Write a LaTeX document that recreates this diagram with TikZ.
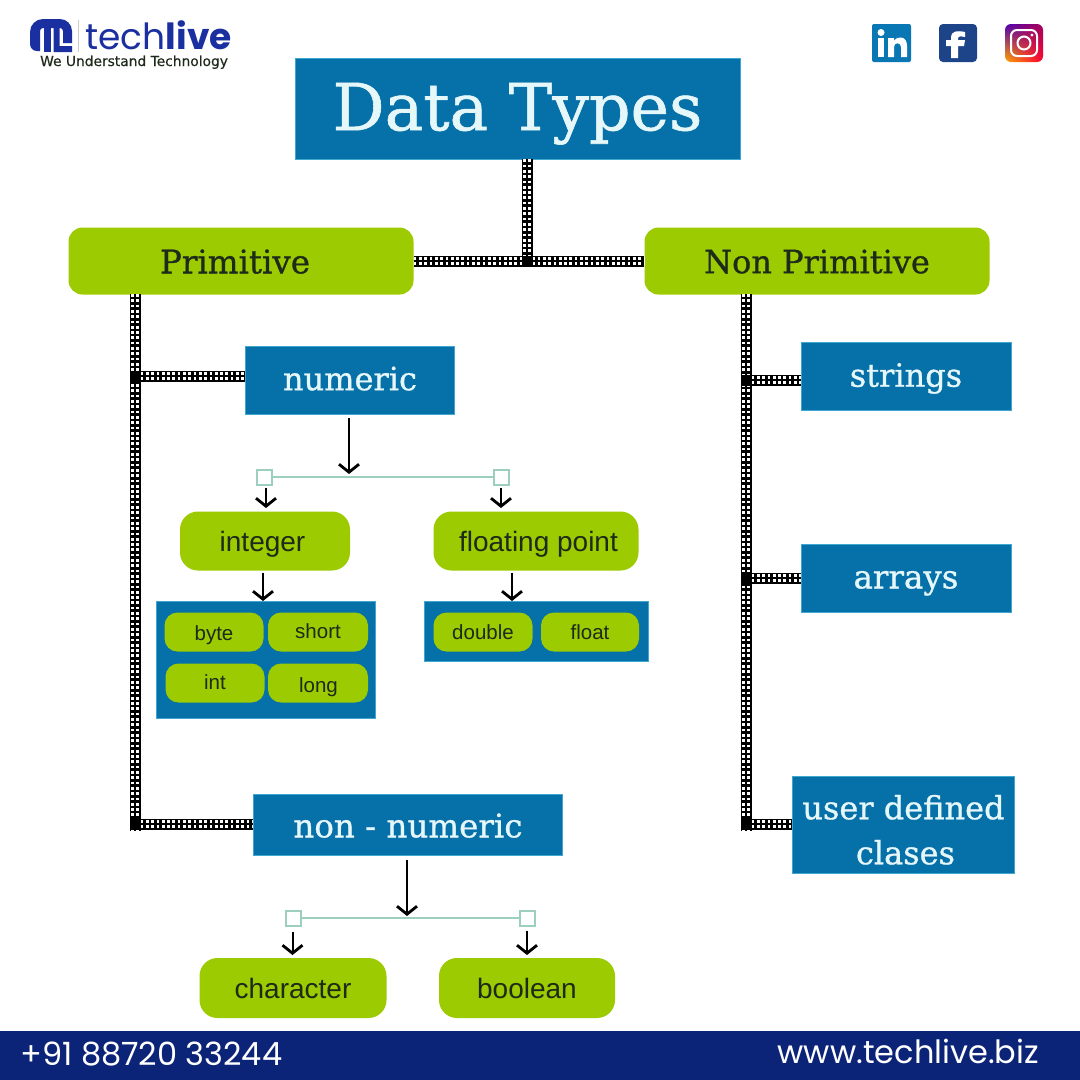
\documentclass[tikz,border=0pt]{standalone}
\usepackage{fontspec}
\setmainfont{Liberation Sans}
\newfontfamily\slabfont[FakeBold=0.9]{DejaVu Serif}
\newfontfamily\footfont{Poppins}
\newfontfamily\logofont{Poppins}
\newfontfamily\tagfont[FakeBold=0.4]{DejaVu Sans}
\usetikzlibrary{arrows.meta,shadings}
\definecolor{tlblue}{HTML}{0670A8}
\definecolor{tledge}{HTML}{3FA6CF}
\definecolor{tlgreen}{HTML}{9BCB00}
\definecolor{tlink}{HTML}{1E2A1A}
\definecolor{tlpale}{HTML}{E6F7FA}
\definecolor{tlnavy}{HTML}{0C2478}
\definecolor{tlmint}{HTML}{9CCFC0}
\definecolor{logoblue}{HTML}{1A2FA0}
\definecolor{lnblue}{HTML}{0A77B5}
\definecolor{fbblue}{HTML}{1D4488}
\tikzset{
  bluebox/.style={fill=tlblue,draw=tledge,line width=.6pt,text=tlpale,inner sep=0pt,align=center},
  greenbox/.style={fill=tlgreen,draw=none,rounded corners=#1,text=tlink,inner sep=0pt,align=center},
  greenbox/.default=14pt,
  ladder/.style={line width=11pt,black,
    postaction={draw=white,line width=7.5pt,dash pattern=on 2.7pt off 2.6pt},
    postaction={draw=black,line width=1.4pt}},
  arrowline/.style={black,line width=2pt,-{Straight Barb[length=8pt,width=20pt,line width=2.8pt]}},
  branch/.style={tlmint,line width=2pt},
  tick/.style={draw=tlmint,fill=white,line width=2pt,minimum size=15pt,inner sep=0pt},
  slab/.style={font=\slabfont\fontsize{#1}{#1}\selectfont,text height=.86*#1 pt,text depth=.1*#1 pt},
  sans/.style={font=\fontsize{#1}{#1}\selectfont,text height=.86*#1 pt,text depth=.1*#1 pt},
}
\begin{document}
\begin{tikzpicture}[x=1pt,y=-1pt]
\useasboundingbox (0,0) rectangle (1080,1080);
\fill[white] (0,0) rectangle (1080,1080);
% ----- footer
\fill[tlnavy] (0,1031) rectangle (1080,1080);
\node[anchor=west,text=white,inner sep=0pt,font=\footfont\fontsize{32}{32}\selectfont] (phone) at (20,1054) {+91 88720 33244};
\node[anchor=east,text=white,inner sep=0pt,font=\footfont\fontsize{32}{32}\selectfont] (web) at (1039,1051) {www.techlive.biz};
% ----- logo
\fill[logoblue] (30,44) -- (30,32) arc[start angle=180,end angle=270,radius=13] -- (60,19) arc[start angle=-90,end angle=0,radius=12] -- (72,43) -- (63,43) -- (63,31) arc[start angle=0,end angle=-90,radius=3] -- (43,28) arc[start angle=270,end angle=180,radius=3] -- (40,51) -- (37,51) arc[start angle=90,end angle=180,radius=7] -- cycle;
\fill[logoblue] (44,27) rectangle (50.5,52);
\fill[logoblue] (53.5,27) -- (59.5,27) -- (59.5,46) -- (72,46) -- (72,52) -- (53.5,52) -- cycle;
\draw[gray!40,line width=.7pt] (78.5,20) -- (78.5,52);
\node[anchor=base west,inner sep=0pt,text depth=0pt,text=logoblue,font=\logofont\fontsize{36}{36}\selectfont] (lt) at (85,49.5) {tech};
\node[anchor=base west,inner sep=0pt,text depth=0pt,text=logoblue,font=\logofont\bfseries\fontsize{36}{36}\selectfont] (ll) at (lt.base east) {live};
\node[anchor=base west,inner sep=0pt,text height=9pt,text=tlink,font=\tagfont\fontsize{13.8}{14}\selectfont] (tag) at (40,66) {We Understand Technology};
% ----- icons
\fill[lnblue,rounded corners=2pt] (872,24) rectangle (911,62);
\fill[white] (878,38) rectangle (884,57);
\fill[white] (881,32.5) circle (3.5);
\fill[white] (888,38) -- (894,38) -- (894,41) .. controls (896,38) and (899,37) .. (901,37.5) .. controls (905,38) and (907,41) .. (907,46) -- (907,57) -- (901,57) -- (901,47) .. controls (901,42) and (894,42) .. (894,47) -- (894,57) -- (888,57) -- cycle;
\fill[fbblue,rounded corners=4pt] (939,24) rectangle (977,62);
\fill[white] (951,58) -- (951,46) -- (946,46) -- (946,40) -- (951,40) -- (951,37) .. controls (951,32) and (956,30) .. (965,32) -- (965,37) .. controls (960,36) and (958,36) .. (958,39) -- (958,40) -- (965,40) -- (964,46) -- (958,46) -- (958,58) -- cycle;
\begin{scope}
\clip[rounded corners=6pt] (1005,24) rectangle (1043,62);
\shade[upper left=violet!60!blue,upper right=violet!70!red,lower left=orange!70!yellow,lower right=red!80!magenta] (1005,24) rectangle (1043,62);
\end{scope}
\draw[white,line width=2pt,rounded corners=6pt] (1011,30) rectangle (1037,56);
\draw[white,line width=2pt] (1024,43) circle (6.5);
\fill[white] (1032,35) circle (1.7);
% ----- nodes
\node[bluebox,minimum width=445pt,minimum height=101pt,slab=65] (title) at (517.5,108.5) {\raisebox{3pt}{Data Types}};
\node[greenbox=14pt,minimum width=345pt,minimum height=67pt,slab=32.5] (prim) at (241,261) {\hspace*{-12pt}Primitive};
\node[greenbox=14pt,minimum width=345pt,minimum height=67pt,slab=32] (nonprim) at (817,261) {Non Primitive};
\coordinate (hub) at (527,261);
\node[bluebox,minimum width=209pt,minimum height=68pt,slab=32] (numeric) at (350,380) {\raisebox{2pt}{numeric}};
\node[bluebox,minimum width=309pt,minimum height=61pt,slab=32.5] (nonnum) at (408,825) {non - numeric};
\node[bluebox,minimum width=210pt,minimum height=68pt,slab=32] (strings) at (906,376.5) {\raisebox{2pt}{strings}};
\node[bluebox,minimum width=210pt,minimum height=68pt,slab=32.5] (arrays) at (906,578) {\raisebox{2pt}{arrays}};
\node[bluebox,minimum width=222pt,minimum height=97pt,font=\slabfont\fontsize{32}{45}\selectfont] (user) at (903.5,825) {\rule{0pt}{34pt}user defined\\\hspace*{4pt}clases};
% ladder anchors
\coordinate (primdown) at (135,294);
\coordinate (primnum) at (130,376);
\coordinate (primend) at (135,831);
\coordinate (primnon) at (130,824);
\coordinate (npdown) at (746,294);
\coordinate (npend) at (746,831);
\coordinate (npstr) at (741,380);
\coordinate (nparr) at (741,578);
\coordinate (npuser) at (741,824);
% ladders
\draw[ladder] (title.south -| hub) -- (hub);
\draw[ladder] (prim.east) -- (hub);
\draw[ladder] (hub) -- (nonprim.west);
\draw[ladder] (primdown) -- (primend);
\draw[ladder] (primnum) -- (primnum -| numeric.west);
\draw[ladder] (primnon) -- (primnon -| nonnum.west);
\draw[ladder] (npdown) -- (npend);
\draw[ladder] (npstr) -- (npstr -| strings.west);
\draw[ladder] (nparr) -- (nparr -| arrays.west);
\draw[ladder] (npuser) -- (npuser -| user.west);
\fill[black] (521.5,255.5) rectangle ++(11,11);
\foreach \c in {primnum,primnon,npstr,nparr,npuser}{\fill[black] (\c) ++(0,-5.5) rectangle ++(10.5,11);}
% numeric subtree
\node[tick] (tl) at (264,477) {};
\node[tick] (tr) at (501,477) {};
\draw[branch] (tl) -- (tr);
\coordinate (numhit) at (349,474);
\draw[arrowline] (numhit |- numeric.south) ++(0,4) -- (numhit);
\node[greenbox=18pt,minimum width=170pt,minimum height=59pt,sans=28] (integer) at (265,541) {\hspace*{-5pt}integer};
\node[greenbox=18pt,minimum width=205pt,minimum height=59pt,sans=28] (float) at (536,541) {\hspace*{5pt}floating point};
\coordinate (numl) at (266,508);
\coordinate (numr) at (501,508);
\draw[arrowline] (tl.south -| numl) ++(0,2) -- (numl);
\draw[arrowline] (tr.south -| numr) ++(0,2) -- (numr);
% containers
\node[bluebox,minimum width=219pt,minimum height=117pt] (intbox) at (266,659.5) {};
\node[bluebox,minimum width=224pt,minimum height=60pt] (fltbox) at (536,631) {};
\coordinate (intt) at (263,601);
\coordinate (fltt) at (512,601);
\draw[arrowline] (intt |- integer.south) ++(0,2) -- (intt);
\draw[arrowline] (fltt |- float.south) ++(0,2) -- (fltt);
\foreach \n/\x/\y/\w/\t/\dx/\dy in {bt/214/632/99/byte/0/-1,sh/318/632/100/short/0/1,in/215/683/99/int/0/1,lg/318/683/100/long/1/-2,db/483/632/99/double/0/0,fl/590/632/98/float/0/0}{
  \node[greenbox=13pt,minimum width=\w pt,minimum height=39pt,sans=20.5] (\n) at (\x,\y) {\hspace*{\dx pt}\raisebox{\dy pt}{\t}};
}
% non-numeric subtree
\node[tick] (bl) at (293,918) {};
\node[tick] (br) at (527,918) {};
\draw[branch] (bl) -- (br);
\coordinate (nonhit) at (407,916);
\draw[arrowline] (nonhit |- nonnum.south) ++(0,4) -- (nonhit);
\node[greenbox=18pt,minimum width=187pt,minimum height=60pt,sans=28] (char) at (293,988) {character};
\node[greenbox=18pt,minimum width=176pt,minimum height=60pt,sans=28] (bool) at (527,988) {boolean};
\coordinate (chart) at (292.5,955);
\coordinate (boolt) at (527,955);
\draw[arrowline] (bl.south -| chart) ++(0,5) -- (chart);
\draw[arrowline] (br.south -| boolt) ++(0,4) -- (boolt);
\end{tikzpicture}
\end{document}
